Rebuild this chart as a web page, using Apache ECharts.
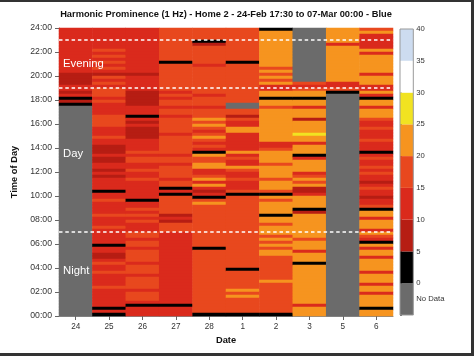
<!DOCTYPE html>
<html><head><meta charset="utf-8">
<script src="https://cdn.jsdelivr.net/npm/echarts/dist/echarts.min.js"></script>
<style>html,body{margin:0;padding:0;background:#fff}#c{width:474px;height:356px}</style>
</head><body><div id="c"></div><script>
// ---------------- DATA ----------------
const N = null; // no data
const dates = ['24','25','26','27','28','1','2','3','5','6'];
const hourLabels = ['00:00','02:00','04:00','06:00','08:00','10:00','12:00','14:00','16:00','18:00','20:00','22:00','24:00'];
const slotCount = 96; // 15-minute slots
// Each column listed from the 23:45 slot (top) down to the 00:00 slot (bottom)
const feb24 = [
 12,12,12,12,12,12,12,12,12,12,12,12,
 12,12,12,7,7,7,7,12,12,7,12,2,
 7,2,N,N,N,N,N,N,N,N,N,N,
 N,N,N,N,N,N,N,N,N,N,N,N,
 N,N,N,N,N,N,N,N,N,N,N,N,
 N,N,N,N,N,N,N,N,N,N,N,N,
 N,N,N,N,N,N,N,N,N,N,N,N,
 N,N,N,N,N,N,N,N,N,N,N,N];
const feb25 = [
 12,12,12,12,12,12,12,17,12,17,12,17,
 12,17,12,7,17,12,17,12,17,17,17,12,
 17,12,12,12,12,17,17,17,17,12,12,12,
 17,12,12,7,7,7,12,7,7,12,12,7,
 12,7,12,12,12,12,2,12,12,17,12,12,
 12,12,17,12,12,12,17,12,12,12,12,12,
 2,12,12,7,7,12,17,12,12,17,12,12,
 12,12,17,12,12,12,12,12,12,2,12,2];
const feb26 = [
 12,12,12,12,12,12,12,12,12,12,12,12,
 12,12,12,7,12,12,12,12,12,7,7,7,
 7,7,12,12,12,2,12,7,12,7,7,7,
 7,12,12,12,12,17,12,17,17,12,12,17,
 12,12,17,12,12,12,12,12,12,2,12,12,
 17,12,17,12,17,12,12,12,17,17,12,17,
 17,12,17,17,17,17,12,17,17,17,12,17,
 17,17,17,12,17,17,17,12,2,12,12,12];
const feb27 = [
 17,17,17,17,17,17,17,17,17,17,17,2,
 17,17,17,17,17,17,17,17,17,12,17,12,
 17,17,12,17,17,12,17,17,17,17,17,12,
 17,17,17,17,17,17,12,17,17,12,17,17,
 17,17,12,17,17,2,12,2,17,17,17,17,
 17,17,7,12,7,17,17,17,12,12,12,12,
 12,12,12,12,12,12,12,12,12,12,12,12,
 12,12,12,12,12,12,12,12,2,12,12,12];
const feb28 = [
 17,17,17,17,2,7,17,17,17,17,17,17,
 12,17,17,17,17,17,17,17,17,17,12,17,
 17,17,12,17,17,17,22,17,22,17,12,17,
 22,17,12,17,12,2,22,17,17,22,22,12,
 12,17,22,12,22,12,7,12,2,17,22,17,
 17,17,17,17,17,17,17,17,17,17,17,17,
 17,2,17,17,17,17,17,17,17,17,17,17,
 17,17,17,17,17,17,17,17,17,17,17,2];
const mar01 = [
 17,17,17,17,17,17,17,17,17,17,17,2,
 17,17,17,17,17,17,17,17,17,17,17,17,
 17,N,N,17,17,7,17,12,12,22,22,12,
 12,12,12,12,12,22,12,17,12,12,22,17,
 12,12,17,12,12,12,17,2,17,17,17,17,
 17,17,17,17,17,17,17,17,17,17,17,17,
 17,17,17,17,17,17,17,17,2,17,17,17,
 17,17,17,22,17,22,17,17,17,17,17,2];
const mar02 = [
 2,22,22,22,22,22,22,22,22,22,22,22,
 22,17,22,17,22,17,22,12,12,22,22,2,
 22,22,17,22,22,22,22,22,22,22,22,22,
 22,22,12,12,17,22,22,22,22,17,22,22,
 22,22,17,22,22,22,17,2,22,17,22,22,
 22,22,2,22,22,17,22,22,22,17,22,17,
 22,17,22,22,17,17,17,17,17,17,17,17,
 22,17,17,17,17,17,17,17,17,17,17,2];
const mar03 = [
 N,N,N,N,N,N,N,N,N,N,N,N,
 N,N,N,N,N,N,17,12,17,22,22,2,
 22,22,12,22,22,22,7,22,22,22,22,27,
 22,22,12,22,22,22,2,12,22,22,22,22,
 12,17,22,17,22,7,7,12,22,22,22,22,
 2,7,22,22,22,22,22,22,22,22,17,22,
 22,22,12,22,22,22,2,22,22,22,22,22,
 22,22,22,22,22,22,22,22,12,22,22,22];
const mar05 = [
 22,22,22,22,22,12,22,22,22,22,22,22,
 22,22,22,22,22,22,12,12,17,2,N,N,
 N,N,N,N,N,N,N,N,N,N,N,N,
 N,N,N,N,N,N,N,N,N,N,N,N,
 N,N,N,N,N,N,N,N,N,N,N,N,
 N,N,N,N,N,N,N,N,N,N,N,N,
 N,N,N,N,N,N,N,N,N,N,N,N,
 N,N,N,N,N,N,N,N,N,N,N,N];
const mar06 = [
 17,22,12,12,12,12,12,22,12,22,22,22,
 22,22,22,12,22,22,22,12,12,22,12,2,
 22,22,12,22,22,22,17,12,12,17,12,12,
 12,17,12,12,12,2,12,17,12,12,17,12,
 17,12,12,7,12,17,12,12,7,12,12,17,
 2,22,22,12,22,22,22,12,22,17,12,2,
 22,12,22,22,12,22,22,22,22,12,22,22,
 22,12,22,22,12,22,22,22,22,2,22,22];
const columns = [feb24, feb25, feb26, feb27, feb28, mar01, mar02, mar03, mar05, mar06];

// colour scale
const legendBreaks = [-5, 0, 5, 10, 15, 20, 25, 30, 35, 40];
const legendTickLabels = ['0','5','10','15','20','25','30','35','40'];
const palette = ['#6b6b6b','#000000','#b61d13','#da2a1c','#e8481e','#f6941f','#f1e321','#ffffff','#cddcf0'];
const noDataLabel = 'No Data';

// period annotations
const periodBoundaries = [23, 19, 7];
const periodNames = ['Evening', 'Day', 'Night'];
const periodLabelHours = [21.05, 13.5, 3.8];

// ---------------- CHART ----------------
const FONT = '"Liberation Sans", Arial, Helvetica, sans-serif';
const slots = [];
for (let i = 0; i < slotCount; i++) slots.push(String(i));
const heat = [];
columns.forEach((col, c) => col.forEach((v, i) => heat.push([c, slotCount - 1 - i, v === null ? -1 : v])));

const pieces = palette.map((color, i) => i === 0 ? { lt: 0, color } : { gte: legendBreaks[i], lt: legendBreaks[i + 1], color });
const bands = palette.map((c, i) => [0, legendBreaks[i], legendBreaks[i + 1]]);

const chart = echarts.init(document.getElementById('c'), null, { renderer: 'canvas' });
chart.setOption({
  backgroundColor: '#fff',
  animation: false,
  title: {
    text: 'Harmonic Prominence (1 Hz) - Home 2 - 24-Feb 17:30 to 07-Mar 00:00 - Blue',
    left: 226, top: 10, textAlign: 'center', padding: 0,
    textStyle: { fontFamily: FONT, fontSize: 9.3, fontWeight: 'bold', color: '#111' }
  },
  grid: [
    { left: 59, top: 28, right: 81, bottom: 40, containLabel: false },
    { left: 400, top: 29, width: 13.3, height: 286, containLabel: false }
  ],
  xAxis: [
    { type: 'category', gridIndex: 0, data: dates, name: 'Date', nameLocation: 'middle', nameGap: 17,
      nameTextStyle: { fontFamily: FONT, fontSize: 9.3, fontWeight: 'bold', color: '#111' },
      axisLine: { show: true, lineStyle: { color: '#888', width: 1 } },
      axisTick: { show: true, alignWithLabel: true, length: 4, lineStyle: { color: '#666' } },
      axisLabel: { fontFamily: FONT, fontSize: 8.2, color: '#333', margin: 7 },
      splitLine: { show: false } },
    { type: 'value', gridIndex: 1, min: 0, max: 1, show: false }
  ],
  yAxis: [
    { type: 'category', gridIndex: 0, data: slots, show: false },
    { type: 'value', gridIndex: 0, min: 0, max: 24, interval: 2, position: 'left',
      name: 'Time of Day', nameLocation: 'middle', nameGap: 32, nameRotate: 90,
      nameTextStyle: { fontFamily: FONT, fontSize: 9.3, fontWeight: 'bold', color: '#111' },
      axisLine: { show: true, lineStyle: { color: '#888', width: 1 } },
      axisTick: { show: true, length: 4, lineStyle: { color: '#666' } },
      axisLabel: { fontFamily: FONT, fontSize: 8.7, color: '#333', margin: 7, formatter: v => hourLabels[v / 2] },
      splitLine: { show: false } },
    { type: 'value', gridIndex: 1, min: -5, max: 40, interval: 5, position: 'right',
      axisLine: { show: false },
      axisTick: { show: true, length: 2, lineStyle: { color: '#666' } },
      axisLabel: { fontFamily: FONT, fontSize: 7.7, color: '#333', margin: 3,
        formatter: v => v < 0 ? '' : legendTickLabels[v / 5] },
      splitLine: { show: false } }
  ],
  visualMap: { type: 'piecewise', show: false, seriesIndex: 0, dimension: 2, pieces: pieces },
  series: [
    { type: 'heatmap', xAxisIndex: 0, yAxisIndex: 0, data: heat, progressive: 0,
      emphasis: { disabled: true }, itemStyle: { borderWidth: 0 } },
    { type: 'custom', xAxisIndex: 0, yAxisIndex: 1, silent: true, z: 5,
      data: periodBoundaries.map(h => [0, h]),
      renderItem: (params, api) => {
        const cs = params.coordSys;
        const y = api.coord([0, api.value(1)])[1];
        return { type: 'line', shape: { x1: cs.x, y1: y, x2: cs.x + cs.width, y2: y },
          style: { stroke: '#ffffff', lineWidth: 1.7, lineDash: [3.5, 2.8] } };
      } },
    { type: 'custom', xAxisIndex: 0, yAxisIndex: 1, silent: true, z: 6,
      data: periodLabelHours.map(h => [0, h]),
      renderItem: (params, api) => {
        const cs = params.coordSys;
        const y = api.coord([0, api.value(1)])[1];
        return { type: 'text', x: cs.x + 4, y: y,
          style: { text: periodNames[params.dataIndex], fill: '#ffffff', font: '11.3px ' + FONT,
            align: 'left', verticalAlign: 'middle', textAlign: 'left', textVerticalAlign: 'middle' } };
      } },
    { type: 'custom', xAxisIndex: 1, yAxisIndex: 2, silent: true,
      data: bands,
      renderItem: (params, api) => {
        const i = params.dataIndex;
        const p1 = api.coord([0, api.value(2)]);
        const p2 = api.coord([1, api.value(1)]);
        const children = [{ type: 'rect', shape: { x: p1[0], y: p1[1], width: p2[0] - p1[0], height: p2[1] - p1[1] },
          style: { fill: palette[i] } }];
        if (i === 0) {
          children.push({ type: 'text', x: p2[0] + 3, y: (p1[1] + p2[1]) / 2,
            style: { text: noDataLabel, fill: '#333', font: '7.7px ' + FONT, align: 'left', verticalAlign: 'middle', textAlign: 'left', textVerticalAlign: 'middle' } });
        }
        if (i === bands.length - 1) {
          const t = api.coord([0, legendBreaks[legendBreaks.length - 1]]);
          const b = api.coord([1, legendBreaks[0]]);
          children.push({ type: 'rect', shape: { x: t[0], y: t[1], width: b[0] - t[0], height: b[1] - t[1] },
            style: { fill: 'none', stroke: '#999', lineWidth: 1 } });
        }
        return { type: 'group', children };
      } }
  ],
  graphic: [
    { type: 'rect', left: 0, top: 0, shape: { width: 474, height: 2 }, style: { fill: '#333' }, silent: true },
    { type: 'rect', left: 471, top: 0, shape: { width: 3, height: 356 }, style: { fill: '#333' }, silent: true },
    { type: 'rect', left: 0, top: 353, shape: { width: 474, height: 3 }, style: { fill: '#333' }, silent: true }
  ]
});
</script></body></html>
